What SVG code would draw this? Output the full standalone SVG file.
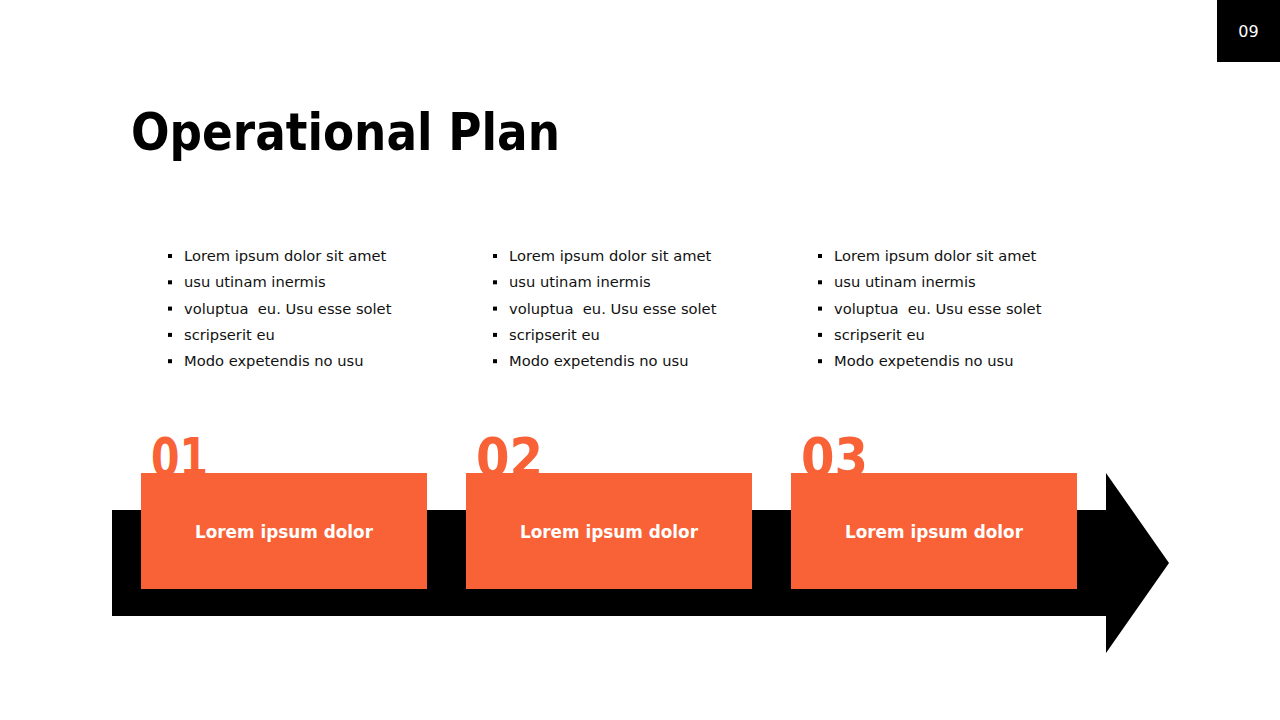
<svg xmlns="http://www.w3.org/2000/svg" width="1280" height="720" viewBox="0 0 1280 720">
<style>
.title{font-family:"DejaVu Sans","Liberation Sans",sans-serif;font-weight:bold;font-size:52px;fill:#000}
.bul{font-family:"DejaVu Sans","Liberation Sans",sans-serif;font-size:14.7px;fill:#111}
.num{font-family:"DejaVu Sans","Liberation Sans",sans-serif;font-weight:bold;font-size:54px;fill:#F86236}
.lbl{font-family:"DejaVu Sans","Liberation Sans",sans-serif;font-weight:bold;font-size:17.5px;fill:#fff}
.box{fill:#F86236}
.pg{font-family:"DejaVu Sans","Liberation Sans",sans-serif;font-size:16px;fill:#fff}
</style>
<rect width="1280" height="720" fill="#fff"/>
<g id="page-number">
<rect x="1217" y="0" width="63" height="62" fill="#000"/>
<text class="pg" x="1248.5" y="37" text-anchor="middle">09</text>
</g>
<text class="title" x="131" y="150" textLength="429" lengthAdjust="spacingAndGlyphs">Operational Plan</text>
<g id="connectors">
<polygon points="112,510 1106,510 1106,473 1169,563 1106,653 1106,616 112,616" fill="#000"/>
</g>
<g id="step1">
<text class="num" x="151" y="476" textLength="57" lengthAdjust="spacingAndGlyphs">01</text>
<rect class="box" x="141" y="473" width="286" height="116"/>
<text class="lbl" x="284" y="538" text-anchor="middle" textLength="178" lengthAdjust="spacingAndGlyphs">Lorem ipsum dolor</text>
</g>
<g id="step2">
<text class="num" x="476" y="476" textLength="67" lengthAdjust="spacingAndGlyphs">02</text>
<rect class="box" x="466" y="473" width="286" height="116"/>
<text class="lbl" x="609" y="538" text-anchor="middle" textLength="178" lengthAdjust="spacingAndGlyphs">Lorem ipsum dolor</text>
</g>
<g id="step3">
<text class="num" x="801" y="476" textLength="67" lengthAdjust="spacingAndGlyphs">03</text>
<rect class="box" x="791" y="473" width="286" height="116"/>
<text class="lbl" x="934" y="538" text-anchor="middle" textLength="178" lengthAdjust="spacingAndGlyphs">Lorem ipsum dolor</text>
</g>
<defs>
<g id="bullets">
<rect x="0" y="-7" width="4" height="4"/>
<rect x="0" y="19.3" width="4" height="4"/>
<rect x="0" y="45.6" width="4" height="4"/>
<rect x="0" y="71.9" width="4" height="4"/>
<rect x="0" y="98.2" width="4" height="4"/>
</g>
</defs>
<g id="list1">
<use href="#bullets" x="168" y="261"/>
<text class="bul" x="184" y="261">Lorem ipsum dolor sit amet</text>
<text class="bul" x="184" y="287.3">usu utinam inermis</text>
<text class="bul" x="184" y="313.6">voluptua&#160; eu. Usu esse solet</text>
<text class="bul" x="184" y="339.9">scripserit eu</text>
<text class="bul" x="184" y="366.2">Modo expetendis no usu</text>
</g>
<g id="list2">
<use href="#bullets" x="493" y="261"/>
<text class="bul" x="509" y="261">Lorem ipsum dolor sit amet</text>
<text class="bul" x="509" y="287.3">usu utinam inermis</text>
<text class="bul" x="509" y="313.6">voluptua&#160; eu. Usu esse solet</text>
<text class="bul" x="509" y="339.9">scripserit eu</text>
<text class="bul" x="509" y="366.2">Modo expetendis no usu</text>
</g>
<g id="list3">
<use href="#bullets" x="818" y="261"/>
<text class="bul" x="834" y="261">Lorem ipsum dolor sit amet</text>
<text class="bul" x="834" y="287.3">usu utinam inermis</text>
<text class="bul" x="834" y="313.6">voluptua&#160; eu. Usu esse solet</text>
<text class="bul" x="834" y="339.9">scripserit eu</text>
<text class="bul" x="834" y="366.2">Modo expetendis no usu</text>
</g>
</svg>
